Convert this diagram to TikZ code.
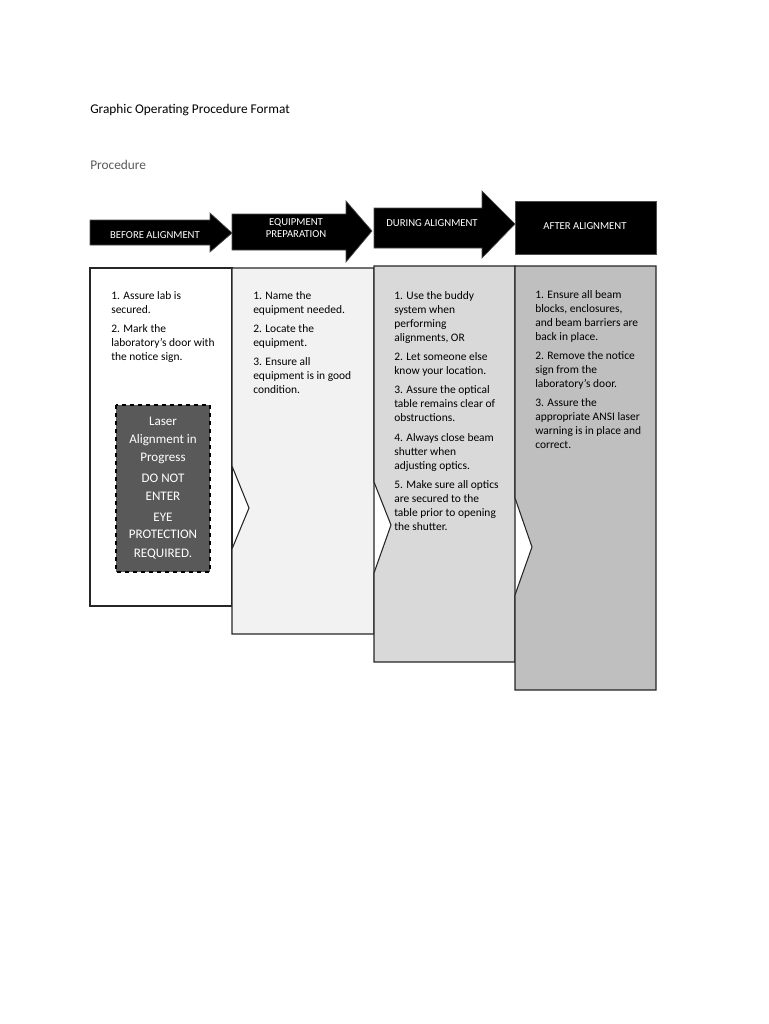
\documentclass[tikz,border=0pt]{standalone}
\usepackage{fontspec}
\setmainfont{Carlito}
\begin{document}
\begin{tikzpicture}[x=0.75pt,y=-0.75pt,
  panel/.style={draw=black!85,line width=0.8pt},
  hdr/.style={fill=black,draw=black!70,line width=0.5pt},
  htxt/.style={text=white,font=\fontsize{8}{9.5}\selectfont,align=center,inner sep=0pt},
  body/.style={anchor=north west,align=left,inner sep=0pt,font=\fontsize{8.6}{10.5}\selectfont},
  sign/.style={text=white,align=center,inner sep=0pt,font=\fontsize{9.8}{13.5}\selectfont}]
\useasboundingbox (0,0) rectangle (768,1024);
\node[anchor=west,inner sep=0pt,font=\fontsize{10}{12}\selectfont] (title) at (90,110) {Graphic Operating Procedure Format};
\node[anchor=west,inner sep=0pt,text=black!65,font=\fontsize{10}{12}\selectfont] (proc) at (90,165) {Procedure};
% header arrows
\draw[hdr] (90,220)--(210,220)--(210,213)--(232,233)--(210,252)--(210,245)--(90,245)--cycle;
\draw[hdr] (232,214)--(346,214)--(346,201)--(372,231)--(346,262)--(346,250)--(232,250)--cycle;
\draw[hdr] (374,208)--(482,208)--(482,191)--(515,224)--(482,258)--(482,248)--(374,248)--cycle;
\draw[hdr] (515,201) rectangle (656,254);
\node[htxt] (h1) at (155,235) {BEFORE ALIGNMENT};
\node[htxt] (h2) at (296,228) {EQUIPMENT\\PREPARATION};
\node[htxt] (h3) at (432,223) {DURING ALIGNMENT};
\node[htxt] (h4) at (585,226) {AFTER ALIGNMENT};
% panels
\draw[panel,fill=white] (90,268) rectangle (232,606);
\draw[panel,fill=black!5] (232,268)--(374,268)--(374,634)--(232,634)--(232,549)--(249,508)--(232,466)--cycle;
\draw[panel,fill=black!15] (374,266)--(515,266)--(515,662)--(374,662)--(374,573)--(391,525)--(374,482)--cycle;
\draw[panel,fill=black!25] (515,266)--(656,266)--(656,690)--(515,690)--(515,595)--(532,547)--(515,498)--cycle;
% texts
\node[body] (t1) at (111,291) {1. Assure lab is\\secured.\\[4pt]2. Mark the\\laboratory's door with\\the notice sign.};
\node[body] (t2) at (253,291) {1. Name the\\equipment needed.\\[4pt]2. Locate the\\equipment.\\[4pt]3. Ensure all\\equipment is in good\\condition.};
\node[body] (t3) at (394,291) {1. Use the buddy\\system when\\performing\\alignments, OR\\[4pt]2. Let someone else\\know your location.\\[4pt]3. Assure the optical\\table remains clear of\\obstructions.\\[4pt]4. Always close beam\\shutter when\\adjusting optics.\\[4pt]5. Make sure all optics\\are secured to the\\table prior to opening\\the shutter.};
\node[body] (t4) at (535,290) {1. Ensure all beam\\blocks, enclosures,\\and beam barriers are\\back in place.\\[4pt]2. Remove the notice\\sign from the\\laboratory's door.\\[4pt]3. Assure the\\appropriate ANSI laser\\warning is in place and\\correct.};
% sign
\draw[fill=black!65,dashed,line width=1pt] (116,405) rectangle (210,572);
\node[sign] (s) at (163,488) {Laser\\Alignment in\\Progress\\[2pt]DO NOT\\ENTER\\[2pt]EYE\\PROTECTION\\REQUIRED.};
\end{tikzpicture}
\end{document}
